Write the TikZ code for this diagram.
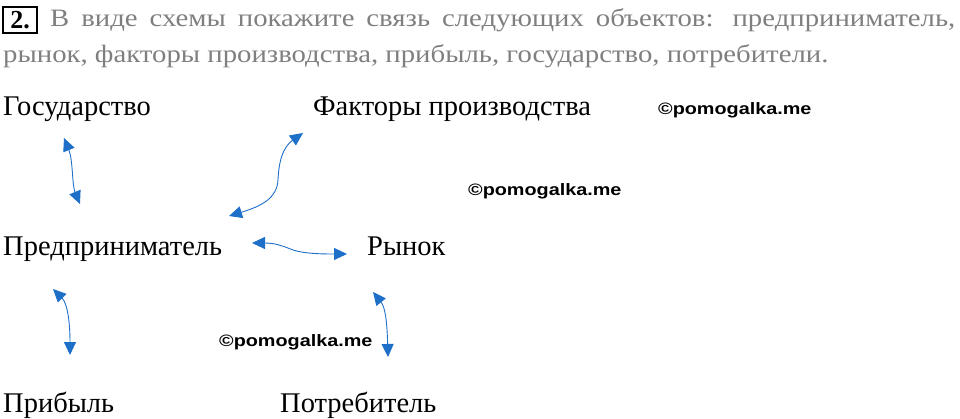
\documentclass[tikz,border=0pt]{standalone}
\usepackage{fontspec}
\setmainfont{Liberation Serif}
\newfontfamily\wmfont{Liberation Sans}
\usetikzlibrary{arrows.meta}
\definecolor{arrowblue}{HTML}{1E6FC8}
\definecolor{hdrgray}{HTML}{7F7F7F}
\begin{document}
\begin{tikzpicture}[x=1pt,y=-1pt,
  lbl/.style={anchor=base west, inner sep=0pt, font=\fontsize{28.5}{31}\selectfont},
  hdr/.style={anchor=base west, inner sep=0pt, text=hdrgray, font=\fontsize{25}{28}\selectfont},
  wm/.style={anchor=base west, inner sep=0pt, font=\wmfont\bfseries\fontsize{16.5}{18}\selectfont},
  link/.style={arrowblue, line width=0.9pt, {Triangle[length=13pt,width=12pt]}-{Triangle[length=13pt,width=12pt]}}]
\useasboundingbox (0,0) rectangle (960,419);
% header
\node[draw, line width=1.8pt, minimum width=34pt, minimum height=26pt, inner sep=0pt,
      font=\bfseries\fontsize{26}{28}\selectfont] (num) at (20,20) {2.};
\node[hdr] (h1) at (50,27) {\scalebox{1.15}[1]{\makebox[787pt][s]{В виде схемы покажите связь следующих объектов: предприниматель,}}};
\node[hdr] (h2) at (3,63) {\scalebox{1.15}[1]{рынок, факторы производства, прибыль, государство, потребители.}};
% labels
\node[lbl] (gos) at (3,116) {Государство};
\node[lbl] (fak) at (313,116) {Факторы производства};
\node[lbl] (pred) at (3,256) {Предприниматель};
\node[lbl] (ryn) at (367,256) {Рынок};
\node[lbl] (prib) at (3,412) {Прибыль};
\node[lbl] (potr) at (280,412) {Потребитель};
% watermarks
\node[wm] (w1) at (658,115) {\scalebox{1.2}[1]{©pomogalka.me}};
\node[wm] (w2) at (468,196) {\scalebox{1.2}[1]{©pomogalka.me}};
\node[wm] (w3) at (219,346) {\scalebox{1.2}[1]{©pomogalka.me}};
% connector ends
\coordinate (a1s) at (64,138);  \coordinate (a1e) at (80,204);
\coordinate (a2s) at (229,216); \coordinate (a2m) at (278,180); \coordinate (a2e) at (303,133);
\coordinate (a3s) at (252,243); \coordinate (a3m) at (293,250); \coordinate (a3e) at (347,254);
\coordinate (a4s) at (53,289);  \coordinate (a4e) at (70,355);
\coordinate (a5s) at (373,292); \coordinate (a5e) at (388,357);
% connectors
\draw[link] (a1s) .. controls (73,160) and (72,185) .. (a1e);
\draw[link] (a2s) .. controls (262,206) and (277,198) .. (a2m) .. controls (279,155) and (286,145) .. (a2e);
\draw[link] (a3s) .. controls (275,243) and (283,246) .. (a3m) .. controls (305,254) and (325,254) .. (a3e);
\draw[link] (a4s) .. controls (67,303) and (70,320) .. (a4e);
\draw[link] (a5s) .. controls (385,307) and (387,320) .. (a5e);
\end{tikzpicture}
\end{document}
